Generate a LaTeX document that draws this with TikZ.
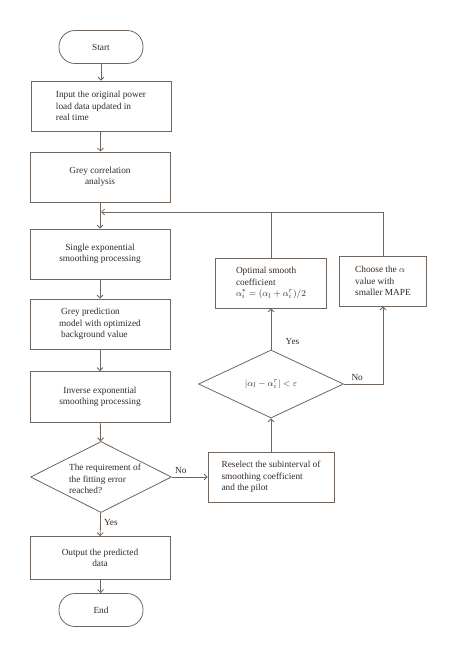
\documentclass[tikz,border=0pt]{standalone}
\usepackage{fontspec}
\setmainfont{Liberation Serif}
\usetikzlibrary{shapes.geometric,arrows.meta}
\definecolor{linegrey}{RGB}{112,102,94}
\definecolor{textgrey}{RGB}{48,41,36}
\tikzset{
    every node/.style={font=\fontsize{9.3}{11.5}\selectfont, text=textgrey},
    process/.style={draw=linegrey, line width=0.8pt, rectangle, inner sep=0pt},
    terminal/.style={draw=linegrey, line width=0.8pt, rectangle, rounded corners=16pt, minimum width=84pt, minimum height=33pt},
    decision/.style={draw=linegrey, line width=0.8pt, diamond, inner sep=0pt},
    flow/.style={draw=linegrey, line width=0.8pt, -{Straight Barb[length=3pt,width=6pt]}},
    link/.style={draw=linegrey, line width=0.8pt}
}
\begin{document}
\begin{tikzpicture}[x=1pt,y=-1pt]
    \useasboundingbox (0,0) rectangle (456,660);
    % main column
    \node[terminal] (start) at (101,47) {Start};
    \node[process, minimum width=140pt, minimum height=50pt, align=left] (input) at (101,106) {Input the original power\\load data updated in\\real time};
    \node[process, minimum width=140pt, minimum height=50pt, align=center] (grey) at (100,177) {Grey correlation\\analysis};
    \node[process, minimum width=140pt, minimum height=50pt, align=center] (single) at (100,254) {Single exponential\\smoothing processing};
    \node[process, minimum width=140pt, minimum height=50pt, align=left] (model) at (100,324) {\hspace*{2pt}Grey prediction\\model with optimized\\\hspace*{2pt}background value};
    \node[process, minimum width=140pt, minimum height=51pt, align=center] (inverse) at (100,397) {Inverse exponential\\smoothing processing};
    \node[decision, minimum width=141pt, minimum height=71pt] (fit) at (101,477) {};
    \node[align=left] (fittext) at (105,479) {The requirement of\\the fitting error\\reached?};
    \node[process, minimum width=140pt, minimum height=43pt, align=center] (output) at (100,558) {Output the predicted\\data};
    \node[terminal] (end) at (101,610) {End};
    % right branch
    \node[process, minimum width=126pt, minimum height=50pt, align=left] (reselect) at (271,477) {Reselect the subinterval of\\smoothing coefficient\\and the pilot};
    \node[decision, minimum width=145pt, minimum height=68pt] (check) at (271,384) {$|\alpha_l-\alpha_i^r|<\varepsilon$};
    \node[process, minimum width=111pt, minimum height=50pt, align=left] (optimal) at (271,283) {Optimal smooth\\coefficient\\$\alpha_i^*=(\alpha_l+\alpha_i^r)/2$};
    \node[process, minimum width=87pt, minimum height=50pt, align=left] (choose) at (383,281) {Choose the $\alpha$\\value with\\smaller MAPE};
    \coordinate (loop) at (101,212);
    % connectors
    \draw[flow] (start) -- (input);
    \draw[flow] (input) -- (grey);
    \draw[flow] (grey) -- (single);
    \draw[flow] (single) -- (model);
    \draw[flow] (model) -- (inverse);
    \draw[flow] (inverse) -- (fit);
    \draw[flow] (fit) -- node[right, pos=0.4] {Yes} (output);
    \draw[flow] (output) -- (end);
    \draw[flow] (fit.east) -- node[above, pos=0.25] {No} (reselect.west);
    \draw[flow] (reselect) -- (check);
    \draw[flow] (check) -- node[right, pos=0.2, xshift=11pt] {Yes} (optimal);
    \draw[flow] (check.east) -| node[above, pos=0.17] {No} (choose.south);
    \draw[link] (optimal.north) -- (optimal.north |- loop);
    \draw[flow] (choose.north) |- (loop);
\end{tikzpicture}
\end{document}
